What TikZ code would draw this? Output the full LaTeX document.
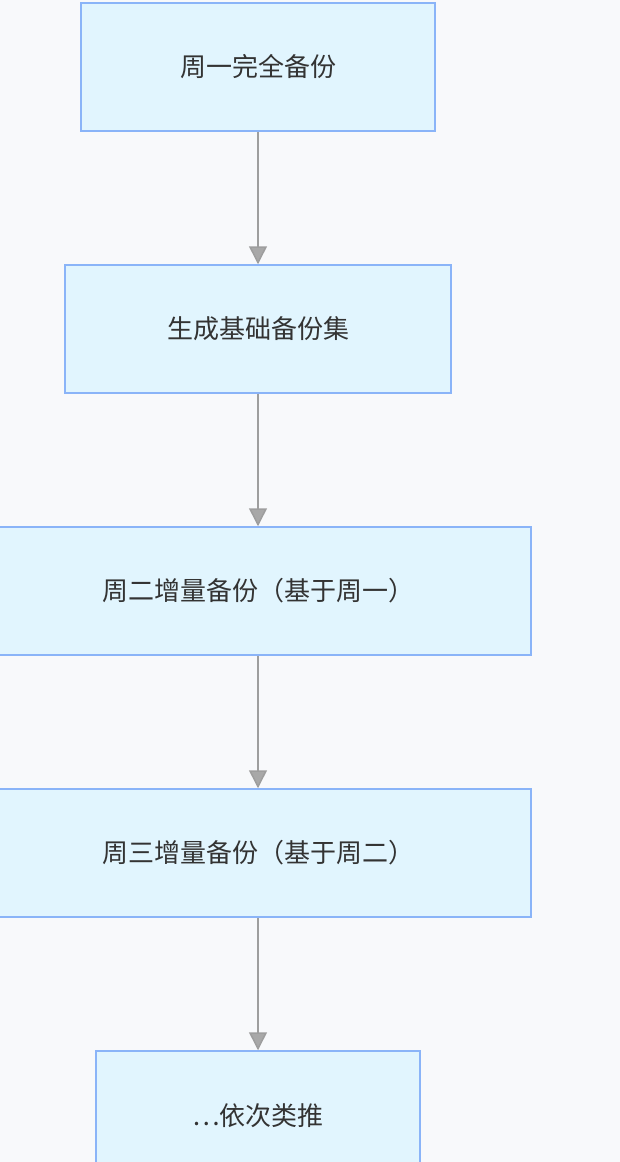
\documentclass[tikz,border=0pt]{standalone}
\usepackage{fontspec}
\newfontfamily\cjk{Noto Sans CJK SC}
\usetikzlibrary{arrows.meta}
\definecolor{bg}{HTML}{F8F9FB}
\definecolor{boxfill}{HTML}{E1F5FE}
\definecolor{boxline}{HTML}{8AB4F8}
\definecolor{arr}{HTML}{9E9E9E}
\definecolor{txt}{HTML}{333333}
\tikzset{
  stepbox/.style={draw=boxline, line width=1.5pt, fill=boxfill, inner sep=0pt, text=txt, font=\cjk\fontsize{26}{30}\selectfont},
  conn/.style={draw=arr, line width=1.5pt, -{Triangle[length=18pt,width=18pt,fill=arr!90]}}
}
\begin{document}
\begin{tikzpicture}[x=1pt,y=-1pt]
\useasboundingbox (0,0) rectangle (620,1162);
\clip (0,0) rectangle (620,1162);
\fill[bg] (0,0) rectangle (620,1162);
\node[stepbox, minimum width=354pt, minimum height=128pt] (a) at (258,67) {周一完全备份};
\node[stepbox, minimum width=386pt, minimum height=128pt] (b) at (258,329) {生成基础备份集};
\node[stepbox, minimum width=546pt, minimum height=128pt] (c) at (258,591) {周二增量备份（基于周一）};
\node[stepbox, minimum width=546pt, minimum height=128pt] (d) at (258,853) {周三增量备份（基于周二）};
\node[stepbox, minimum width=324pt, minimum height=128pt, text depth=0pt] (e) at (258,1115) {…依次类推};
\draw[conn] (a.south) -- (b.north);
\draw[conn] (b.south) -- (c.north);
\draw[conn] (c.south) -- (d.north);
\draw[conn] (d.south) -- (e.north);
\end{tikzpicture}
\end{document}
